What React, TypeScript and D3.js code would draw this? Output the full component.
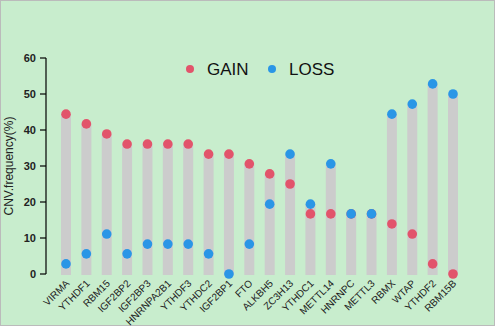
import React from "react";
import * as d3 from "d3";

const categories = ["VIRMA","YTHDF1","RBM15","IGF2BP2","IGF2BP3","HNRNPA2B1","YTHDF3","YTHDC2","IGF2BP1","FTO","ALKBH5","ZC3H13","YTHDC1","METTL14","HNRNPC","METTL3","RBMX","WTAP","YTHDF2","RBM15B"];
const gainValues = [44.4,41.7,38.9,36.1,36.1,36.1,36.1,33.3,33.3,30.6,27.8,25.0,16.7,16.7,16.7,16.7,13.9,11.1,2.8,0];
const lossValues = [2.8,5.6,11.1,5.6,8.3,8.3,8.3,5.6,0,8.3,19.4,33.3,19.4,30.6,16.7,16.7,44.4,47.2,52.8,50.0];
const yTicks = [0,10,20,30,40,50,60];

const W = 495, H = 326;
const GAIN = "#E2546B";
const LOSS = "#2A96E6";

export default function App() {
  const x = d3.scalePoint<string>().domain(categories).range([66, 453]);
  const y = d3.scaleLinear().domain([0, 60]).range([274, 58]);
  return (
    <svg width={W} height={H} style={{ position: "fixed", left: 0, top: 0 }} fontFamily="Arial, 'Liberation Sans', sans-serif">
      <rect x={0} y={0} width={W} height={H} fill="#C8EDCD" />
      <rect x={0.5} y={0.5} width={W - 1} height={H - 1} fill="none" stroke="#BBBBBB" strokeWidth={1} />
      {/* axis */}
      <line x1={46} x2={46} y1={y(60)} y2={y(0)} stroke="#000" strokeWidth={1.2} />
      {yTicks.map(t => (
        <g key={t}>
          <line x1={40} x2={46} y1={y(t)} y2={y(t)} stroke="#000" strokeWidth={1.2} />
          <text x={36} y={y(t)} dy="0.35em" textAnchor="end" fontSize={11} fontWeight="bold" fill="#222">{t}</text>
        </g>
      ))}
      <text transform={`translate(13,${y(30)}) rotate(-90)`} textAnchor="middle" fontSize={12} fill="#222">CNV.frequency(%)</text>
      {/* bars */}
      {categories.map((c, i) => {
        const top = Math.max(gainValues[i], lossValues[i]);
        return <rect key={c} x={x(c)! - 5} width={10} y={y(top)} height={y(0) - y(top) + 1} fill="#CCCCCC" />;
      })}
      {categories.map((c, i) => (
        <circle key={c + "g"} cx={x(c)} cy={y(gainValues[i])} r={4.8} fill={GAIN} />
      ))}
      {categories.map((c, i) => (
        <circle key={c + "l"} cx={x(c)} cy={y(lossValues[i])} r={4.8} fill={LOSS} />
      ))}
      {categories.map(c => (
        <text key={c + "t"} transform={`translate(${x(c)! + 4},${284}) rotate(-45)`} textAnchor="end" fontSize={10} fill="#222">{c}</text>
      ))}
      {/* legend */}
      <circle cx={190} cy={69} r={4} fill={GAIN} />
      <text x={207} y={69} dy="0.35em" fontSize={17} fill="#111">GAIN</text>
      <circle cx={272} cy={69} r={4} fill={LOSS} />
      <text x={289} y={69} dy="0.35em" fontSize={17} fill="#111">LOSS</text>
    </svg>
  );
}
